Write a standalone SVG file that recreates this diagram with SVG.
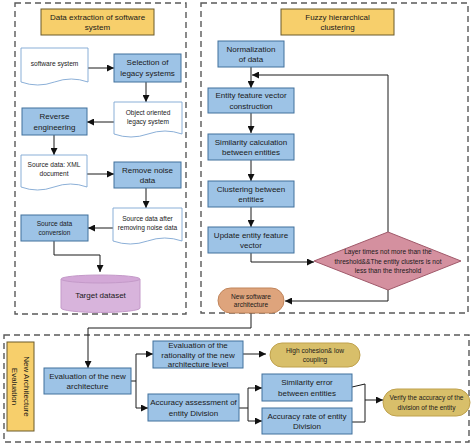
<svg xmlns="http://www.w3.org/2000/svg" width="474" height="447" viewBox="0 0 474 447">
<style>
text{font-family:"Liberation Sans",Arial,sans-serif;fill:#1a1a1a;text-anchor:middle}
.t{font-size:8px}
.s{font-size:6.6px}
.panel{fill:none;stroke:#595959;stroke-width:1.4;stroke-dasharray:6 4}
.box{fill:#9dc3e6;stroke:#41719c;stroke-width:1}
.title{fill:#f7cf6b;stroke:#6b5a2a;stroke-width:1}
.doc{fill:#ffffff;stroke:#7ea6d3;stroke-width:0.9}
.pill{fill:#d8bf6a;stroke:#bfa14d;stroke-width:1}
.c{fill:none;stroke:#1a1a1a;stroke-width:1}
</style>
<defs>
<marker id="a" viewBox="0 0 10 10" refX="10" refY="5" markerWidth="7" markerHeight="7" orient="auto" markerUnits="userSpaceOnUse">
<path d="M0,0 L10,5 L0,10 z" fill="#111"/>
</marker>
</defs>
<rect width="474" height="447" fill="#ffffff"/>
<g id="panels">
<rect class="panel" x="15" y="3" width="171" height="311"/>
<rect class="panel" x="201" y="3" width="267" height="310"/>
<rect class="panel" x="4" y="335" width="465" height="107"/>
</g>
<g id="connectors">
<path class="c" d="M88,68 H114" marker-end="url(#a)"/>
<path class="c" d="M146,82 V102" marker-end="url(#a)"/>
<path class="c" d="M114,122 H87" marker-end="url(#a)"/>
<path class="c" d="M54,135 V155" marker-end="url(#a)"/>
<path class="c" d="M87,174 H114" marker-end="url(#a)"/>
<path class="c" d="M146,188 V208" marker-end="url(#a)"/>
<path class="c" d="M113,228 H88" marker-end="url(#a)"/>
<path class="c" d="M54,241 V255 H100 V272" marker-end="url(#a)"/>
<path class="c" d="M251,67 V88" marker-end="url(#a)"/>
<path class="c" d="M251,113 V133" marker-end="url(#a)"/>
<path class="c" d="M251,160 V181" marker-end="url(#a)"/>
<path class="c" d="M251,207 V227" marker-end="url(#a)"/>
<path class="c" d="M251,253 V262 H314" marker-end="url(#a)"/>
<path class="c" d="M388,232 V75 H252" marker-end="url(#a)"/>
<path class="c" d="M388,290 V301 H285" marker-end="url(#a)"/>
<path class="c" d="M251,313 V328 H88 V368" marker-end="url(#a)"/>
<path class="c" d="M131,381 H136 V354 H153" marker-end="url(#a)"/>
<path class="c" d="M136,381 V408 H148" marker-end="url(#a)"/>
<path class="c" d="M243,354 H266" marker-end="url(#a)"/>
<path class="c" d="M239,408 H248 V388 H262" marker-end="url(#a)"/>
<path class="c" d="M248,408 V421 H262" marker-end="url(#a)"/>
<path class="c" d="M352,387 L365,384 V422 H352"/>
<path class="c" d="M365,400 H383" marker-end="url(#a)"/>
</g>
<g id="title-left"><rect class="title" x="41" y="9" width="113" height="26"/><text class="t" x="97.5" y="20">Data extraction of software</text><text class="t" x="97.5" y="30">system</text></g>
<g id="doc-software"><path class="doc" d="M21,48 H88 V82 q-16.75,-6 -33.5,0 t-33.5,0 z"/><text class="s" x="54.5" y="66">software system</text></g>
<g id="selection"><rect class="box" x="114" y="54" width="67" height="28"/><text class="t" x="147.5" y="65">Selection of</text><text class="t" x="147.5" y="76">legacy systems</text></g>
<g id="doc-oo"><path class="doc" d="M114,102 H182 V134 q-17,-6 -34,0 t-34,0 z"/><text class="s" x="148" y="115">Object oriented</text><text class="s" x="148" y="124">legacy system</text></g>
<g id="reverse"><rect class="box" x="22" y="108" width="65" height="27"/><text class="t" x="54.5" y="119">Reverse</text><text class="t" x="54.5" y="130">engineering</text></g>
<g id="doc-xml"><path class="doc" d="M21,155 H87 V187 q-16.5,-6 -33,0 t-33,0 z"/><text class="s" x="54" y="167">Source data: XML</text><text class="s" x="54" y="176">document</text></g>
<g id="remove"><rect class="box" x="114" y="162" width="67" height="26"/><text class="t" x="147.5" y="172.5">Remove noise</text><text class="t" x="147.5" y="183">data</text></g>
<g id="doc-after"><path class="doc" d="M113,208 H182 V241 q-17.25,-6 -34.5,0 t-34.5,0 z"/><text class="s" x="147.5" y="221">Source data after</text><text class="s" x="147.5" y="230">removing noise data</text></g>
<g id="conversion"><rect class="box" x="21" y="215" width="67" height="26"/><text class="s" x="54.5" y="225.5">Source data</text><text class="s" x="54.5" y="235">conversion</text></g>
<g id="target"><path d="M61,279 V308 A39.5,4.5 0 0 0 140,308 V279" fill="#d8b4dc" stroke="#c49ac9"/><ellipse cx="100.5" cy="279" rx="39.5" ry="4" fill="#d3a8d7" stroke="#c49ac9"/><text class="t" x="100.5" y="298">Target dataset</text></g>
<g id="title-right"><rect class="title" x="281" y="9" width="113" height="26"/><text class="t" x="337.5" y="20">Fuzzy hierarchical</text><text class="t" x="337.5" y="30">clustering</text></g>
<g id="normalization"><rect class="box" x="218" y="41" width="66" height="26"/><text class="t" x="251" y="51.5">Normalization</text><text class="t" x="251" y="62">of data</text></g>
<g id="feature"><rect class="box" x="208" y="88" width="86" height="25"/><text class="t" x="251" y="98">Entity feature vector</text><text class="t" x="251" y="108.5">construction</text></g>
<g id="similarity"><rect class="box" x="208" y="134" width="86" height="26"/><text class="t" x="251" y="144.5">Similarity calculation</text><text class="t" x="251" y="155">between entities</text></g>
<g id="clustering"><rect class="box" x="208" y="181" width="86" height="26"/><text class="t" x="251" y="191.5">Clustering between</text><text class="t" x="251" y="202">entities</text></g>
<g id="update"><rect class="box" x="208" y="227" width="86" height="26"/><text class="t" x="251" y="237.5">Update entity feature</text><text class="t" x="251" y="248">vector</text></g>
<g id="decision"><path d="M388,232 L461,261 L388,290 L314,261 z" fill="#d4909f" stroke="#a0596a"/><text class="s" x="388" y="254">Layer times not more than  the</text><text class="s" x="388" y="263.5">threshold&amp;&amp;The entity clusters is not</text><text class="s" x="388" y="273">less than the threshold</text></g>
<g id="new-arch"><rect x="218" y="288" width="66" height="25" rx="12.5" fill="#dea47c" stroke="#c0845a"/><text class="s" x="251" y="298.5">New software</text><text class="s" x="251" y="307">architecture</text></g>
<g id="side-label"><rect class="title" x="7" y="342" width="27" height="89"/><g transform="translate(20.5,386.5) rotate(90)"><text class="t" x="0" y="-3">New Architecture</text><text class="t" x="0" y="9">Evaluation</text></g></g>
<g id="eval-new"><rect class="box" x="44" y="368" width="87" height="26"/><text class="t" x="87.5" y="378.5">Evaluation of the new</text><text class="t" x="87.5" y="389">architecture</text></g>
<g id="eval-rational"><rect class="box" x="153" y="341" width="90" height="27"/><text class="t" x="198" y="347.5">Evaluation of the</text><text class="t" x="198" y="357.5">rationality of the new</text><text class="t" x="198" y="366.5">architecture level</text></g>
<g id="cohesion"><rect class="pill" x="270" y="343" width="90" height="24" rx="12"/><text class="s" x="315" y="353">High cohesion&amp; low</text><text class="s" x="315" y="362">coupling</text></g>
<g id="accuracy-assess"><rect class="box" x="148" y="394" width="91" height="27"/><text class="t" x="193.5" y="405">Accuracy assessment of</text><text class="t" x="193.5" y="415.5">entity Division</text></g>
<g id="sim-error"><rect class="box" x="262" y="374" width="90" height="27"/><text class="t" x="307" y="385">Similarity error</text><text class="t" x="307" y="395.5">between entities</text></g>
<g id="acc-rate"><rect class="box" x="262" y="408" width="90" height="26"/><text class="t" x="307" y="418.5">Accuracy rate of entity</text><text class="t" x="307" y="429">Division</text></g>
<g id="verify"><rect class="pill" x="383" y="389" width="87" height="27" rx="13.5"/><text class="s" x="426.5" y="400">Verify the accuracy of the</text><text class="s" x="426.5" y="409.5">division of the entity</text></g>
</svg>
